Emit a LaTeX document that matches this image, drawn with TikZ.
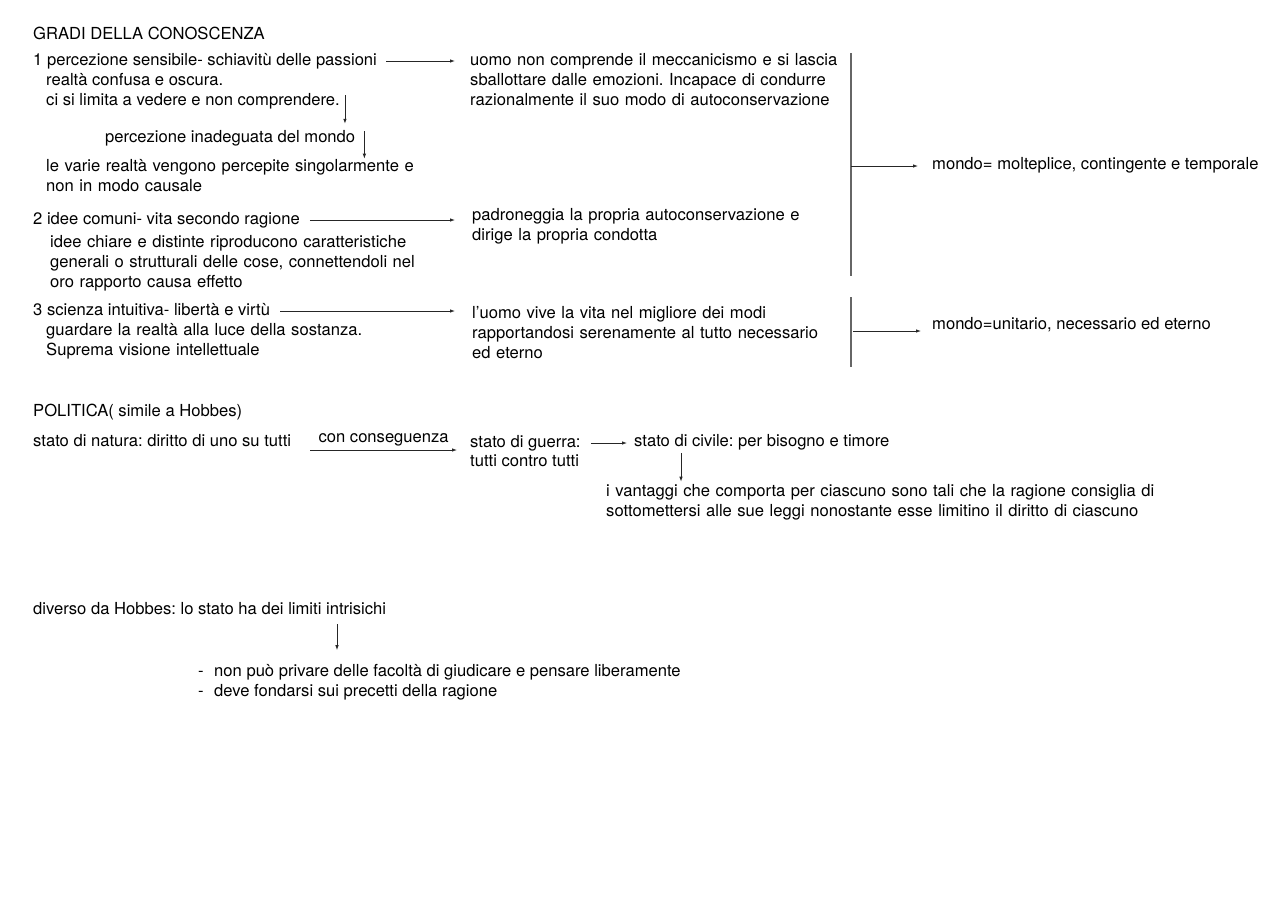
\documentclass[tikz,border=0pt]{standalone}
\usepackage{fontspec}
\setmainfont{TeX Gyre Heros}
\frenchspacing
\usetikzlibrary{arrows.meta,positioning}

\begin{document}
\begin{tikzpicture}[x=1pt,y=-1pt,
 every node/.style={inner sep=0pt,font=\fontsize{16.6}{20}\selectfont},
 txt/.style={anchor=base west,text height=12pt,text depth=4pt},
 blk/.style={anchor=base west,align=left,text width=#1}, blk/.default=420pt,
 arr/.style={draw=black!85,line width=0.8pt,-{Latex[length=5pt,width=3.5pt]}},
 brk/.style={draw=black!60,line width=1.3pt}]
\useasboundingbox (0,0) rectangle (1280,905);
\node[txt] (tit) at (33,39) {GRADI DELLA CONOSCENZA};
\node[txt] (p1) at (33,65) {1 percezione sensibile- schiavitù delle passioni};
\node[txt] (r1) at (46,85) {realtà confusa e oscura.};
\node[txt] (r2) at (46,105) {ci si limita a vedere e non comprendere.};
\node[txt] (pin) at (105,142) {percezione inadeguata del mondo};
\node[blk] (lv) at (46,171) {le varie realtà vengono percepite singolarmente e\\non in modo causale};
\node[txt] (p2) at (33,224) {2 idee comuni- vita secondo ragione};
\node[blk] (p2d) at (50,247) {idee chiare e distinte riproducono caratteristiche\\generali o strutturali delle cose, connettendoli nel\\oro rapporto causa effetto};
\node[txt] (p3) at (33,315) {3 scienza intuitiva- libertà e virtù};
\node[blk] (p3d) at (46,335) {guardare la realtà alla luce della sostanza.\\Suprema visione intellettuale};
\node[blk] (u1) at (470,65) {uomo non comprende il meccanicismo e si lascia\\sballottare dalle emozioni. Incapace di condurre\\razionalmente il suo modo di autoconservazione};
\node[blk] (d2) at (472,220) {padroneggia la propria autoconservazione e\\dirige la propria condotta};
\node[blk] (l3) at (472,318) {l’uomo vive la vita nel migliore dei modi\\rapportandosi serenamente al tutto necessario\\ed eterno};
\node[txt] (m1) at (932,169) {mondo= molteplice, contingente e temporale};
\node[txt] (m2) at (932,329) {mondo=unitario, necessario ed eterno};
\node[txt] (pol) at (33,416) {POLITICA( simile a Hobbes)};
\node[txt] (sn) at (33,446) {stato di natura: diritto di uno su tutti};
\node[txt] (sg) at (470,447) {stato di guerra:};
\node[txt] (sg2) at (470,466) {tutti contro tutti};
\node[txt] (sc) at (634,446) {stato di civile: per bisogno e timore};
\node[blk=580pt] (iv) at (606,496) {i vantaggi che comporta per ciascuno sono tali che la ragione consiglia di\\sottomettersi alle sue leggi nonostante esse limitino il diritto di ciascuno};
\node[txt] (dv) at (33,614) {diverso da Hobbes: lo stato ha dei limiti intrisichi};
\node[anchor=base west] (lim) at (198,676) {\begin{tabular}[t]{@{}l@{\hspace{10.5pt}}l@{}}-&non può privare delle facoltà di giudicare e pensare liberamente\\-&deve fondarsi sui precetti della ragione\end{tabular}};
\draw[arr,shorten <=9pt,shorten >=15pt] (p1.east) -- (p1.east -| u1.west);
\draw[arr,shorten >=6pt] ([shift={(5,-6)}]r2.east) -- ([xshift=5pt]r2.east |- pin.north);
\draw[arr] ([shift={(9,-7)}]pin.east) -- ([xshift=9pt]pin.east |- lv.north);
\draw[arr,shorten <=10pt,shorten >=17pt] (p2.east) -- (p2.east -| d2.west);
\draw[arr,shorten <=10pt,shorten >=17pt] (p3.east) -- (p3.east -| l3.west);
\draw[brk] (851,53) -- (851,276);
\draw[brk] (851,297) -- (851,367);
\coordinate (b1) at (851,166);
\coordinate (b2) at (853,331);
\draw[arr,shorten >=14pt] (b1) -- (b1 -| m1.west);
\draw[arr,shorten >=11pt] (b2) -- (b2 -| m2.west);
\coordinate (c0) at ([shift={(19,8)}]sn.east);
\draw[arr] (c0) -- node[above=3pt] (cc) {con conseguenza} ([xshift=-13pt]c0 -| sg.west);
\draw[arr,shorten <=10pt,shorten >=7pt] (sg.east) -- (sg.east -| sc.west);
\draw[arr,shorten <=3pt,shorten >=2pt] ([xshift=47pt]sc.south west) -- ([xshift=47pt]sc.south west |- iv.north);
\draw[arr,shorten <=6pt] ([xshift=304pt]dv.south west) -- ++(0,32);
\end{tikzpicture}
\end{document}
